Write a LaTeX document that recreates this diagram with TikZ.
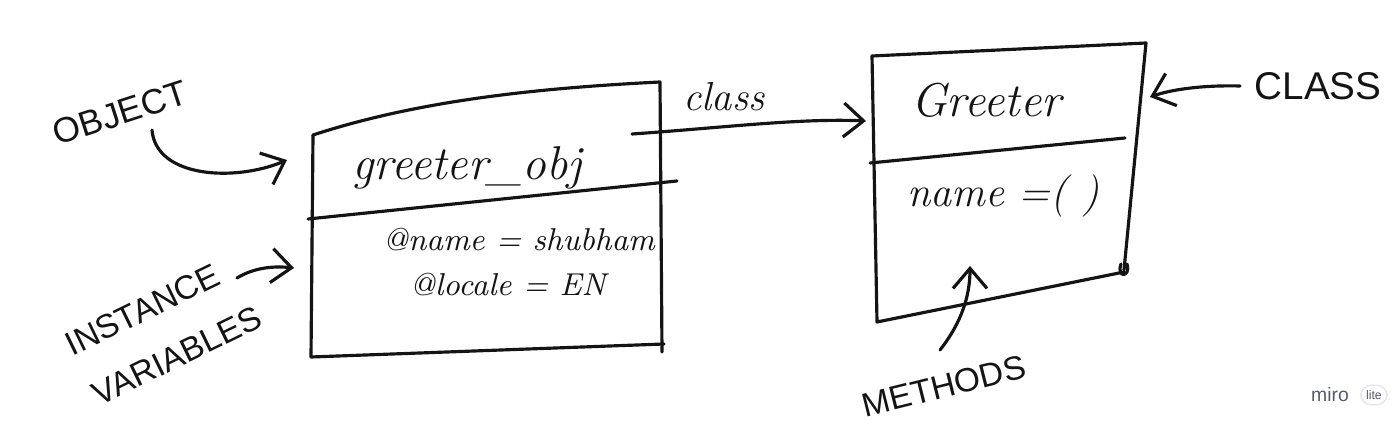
\documentclass[tikz,border=0pt]{standalone}
\usepackage{fontspec}
\setsansfont{Liberation Sans}
\usetikzlibrary{positioning,arrows.meta}
\definecolor{Ink}{RGB}{20,20,20}
\definecolor{MiroGrey}{RGB}{90,90,110}
\definecolor{PillLine}{RGB}{228,228,234}
\tikzset{
  sketch/.style={draw=Ink,line width=0.9pt,line cap=round,line join=round},
  pointer/.style={sketch,-{Straight Barb[length=2mm,width=3.4mm]}},
  hand/.style={text=Ink,inner sep=0pt,font=\itshape\fontsize{#1}{#1}\selectfont},
  caps/.style={text=Ink,inner sep=0pt,font=\sffamily\fontsize{#1}{#1}\selectfont}
}

\begin{document}
\begin{tikzpicture}[x=0.01cm,y=-0.01cm]
  \useasboundingbox (0,0) rectangle (1400,431);

  % object box
  \draw[sketch] (313,135) .. controls (420,100) and (540,88) .. (660,82) -- (662,352);
  \draw[sketch] (313,135) -- (311,357) -- (664,344);
  \draw[sketch] (308,219) -- (677,181);
  \node[hand=13.5] (objname) at (467,168) {greeter\_obj};
  \node[hand=9] (objvar1) at (519,240) {@name = shubham};
  \node[hand=9] (objvar2) at (508,285) {@locale = EN};

  % class box
  \draw[sketch] (872,56) -- (1146,43) -- (1124,270);
  \draw[sketch] (872,56) -- (877,322) -- (1124,272);
  \draw[sketch] (1121,264) .. controls (1116,278) and (1131,278) .. (1127,264);
  \draw[sketch] (870,163) -- (1125,138);
  \node[hand=13.5] (clsname) at (986,100) {Greeter};
  \node[hand=12] (clsmeth) at (1003,196) {name =( )};

  % labels
  \node[caps=10,rotate=18] (objlabel) at (120,113) {OBJECT};
  \node[caps=9.5,rotate=26,align=center] (instlabel) at (155,335)
    {INSTANCE\\[6.5pt]\hspace*{6pt}VARIABLES};
  \node[caps=11] (clslabel) at (1318,86) {CLASS};
  \node[caps=9.5,rotate=14] (methlabel) at (944,386) {METHODS};
  \node[hand=11.5] (assoc) at (724,97) {class};

  % arrow ends
  \coordinate (objfrom) at (152,130);
  \coordinate (objin) at (287,160);
  \coordinate (instfrom) at (237,278);
  \coordinate (instin) at (294,268);
  \coordinate (objout) at (632,134);
  \coordinate (clsin) at (866,121);
  \coordinate (clsfrom) at (1240,86);
  \coordinate (clsside) at (1150,97);
  \coordinate (methfrom) at (940,350);
  \coordinate (methin) at (970,266);

  \draw[pointer] (objfrom) .. controls (156,178) and (235,182) .. (objin);
  \draw[pointer] (instfrom) .. controls (255,267) and (275,266) .. (instin);
  \draw[pointer] (objout) .. controls (720,128) and (800,118) .. (clsin);
  \draw[pointer] (clsfrom) .. controls (1200,85) and (1170,90) .. (clsside);
  \draw[pointer] (methfrom) .. controls (962,322) and (970,295) .. (methin);

  % watermark
  \node[font=\sffamily\fontsize{5.5}{6}\selectfont,text=MiroGrey,inner sep=0pt] (miro) at (1330,395) {miro};
  \node[right=3pt of miro,draw=PillLine,fill=white,rounded corners=3pt,inner sep=1.5pt,
    font=\sffamily\fontsize{3.5}{4}\selectfont,text=MiroGrey] (lite) {lite};
\end{tikzpicture}
\end{document}
